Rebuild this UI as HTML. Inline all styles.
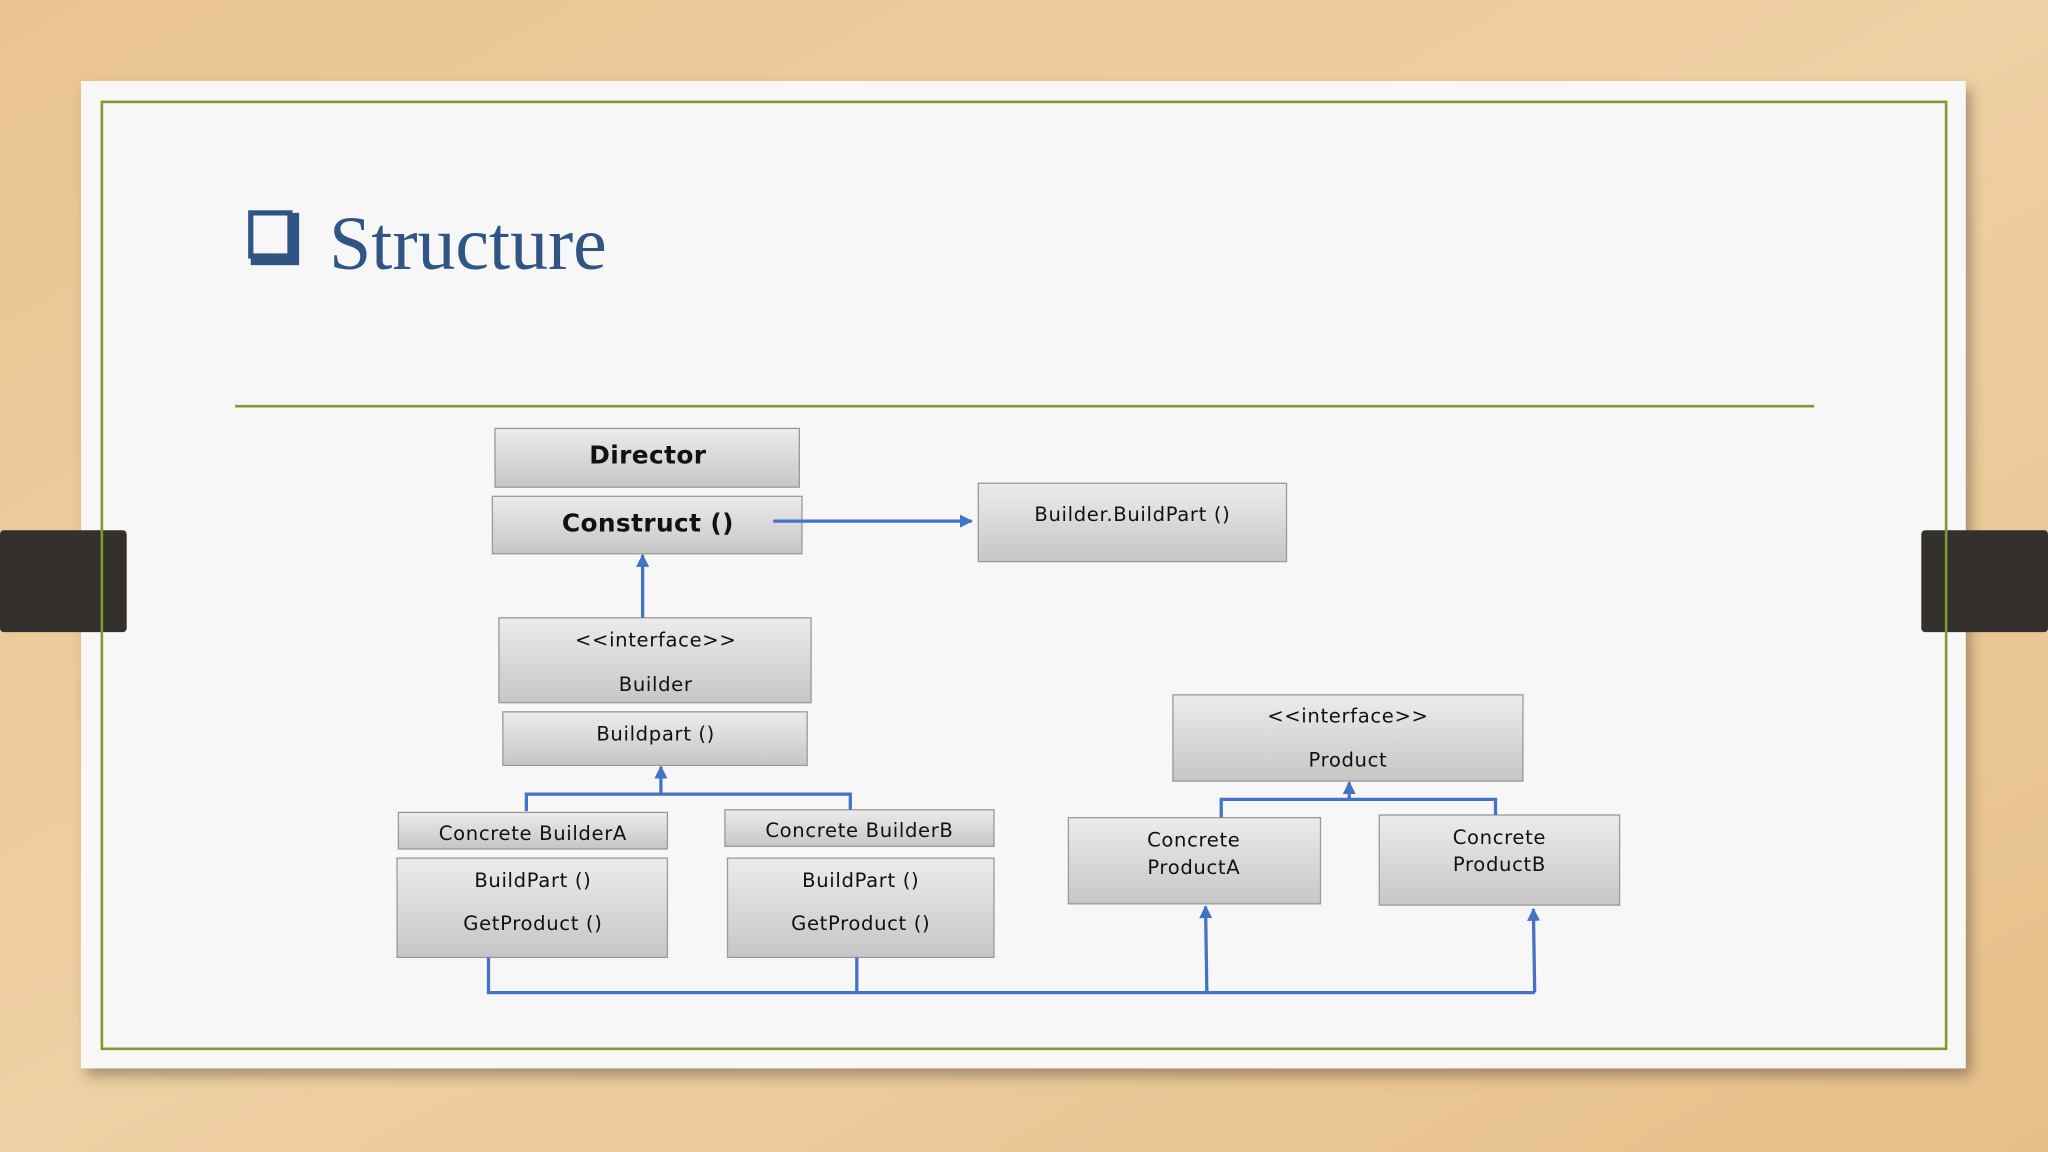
<!DOCTYPE html>
<html><head><meta charset="utf-8"><style>html,body{margin:0;padding:0;width:2048px;height:1152px;overflow:hidden}svg{display:block}</style></head>
<body>
<svg width="2048" height="1152" viewBox="0 0 1568 882" xmlns="http://www.w3.org/2000/svg">
<defs>
<linearGradient id="wood" x1="0" y1="0" x2="1" y2="1">
<stop offset="0" stop-color="#e9c490"/><stop offset="0.5" stop-color="#efd0a4"/><stop offset="1" stop-color="#e6bf88"/></linearGradient>
<linearGradient id="box" x1="0" y1="0" x2="0" y2="1">
<stop offset="0" stop-color="#ececec"/><stop offset="1" stop-color="#c6c6c6"/></linearGradient>
<marker id="ar" viewBox="0 0 10 10" refX="9" refY="5" markerWidth="4" markerHeight="4" orient="auto"><path d="M0,0L10,5L0,10z" fill="#4472c4"/></marker>
<filter id="sh"><feDropShadow dx="4" dy="6" stdDeviation="5" flood-color="#000" flood-opacity="0.3"/></filter>
</defs>
<rect width="1568" height="882" fill="url(#wood)"/>
<rect x="62" y="62" width="1443" height="756" fill="#f7f7f7" filter="url(#sh)"/>
<rect x="0" y="406" width="97" height="78" rx="3" fill="#33302d"/>
<rect x="1471" y="406" width="97" height="78" rx="3" fill="#33302d"/>
<rect x="78" y="78" width="1412" height="725" fill="none" stroke="#7f9a2e" stroke-width="2"/>
<line x1="180" y1="311" x2="1389" y2="311" stroke="#7f9a2e" stroke-width="2"/>
<rect x="192" y="163" width="37" height="40" fill="#2f5584"/>
<rect x="192" y="163" width="30" height="33" fill="#f7f7f7" stroke="#2f5584" stroke-width="4"/>
<text x="252" y="206" font-family="Liberation Serif, serif" font-size="58" fill="#2f5584">Structure</text>
<g stroke="#9a9a9a" stroke-width="1" fill="url(#box)">
<rect x="379" y="328" width="233" height="45"/>
<rect x="377" y="380" width="237" height="44"/>
<rect x="749" y="370" width="236" height="60"/>
<rect x="382" y="473" width="239" height="65"/>
<rect x="385" y="545" width="233" height="41"/>
<rect x="305" y="622" width="206" height="28"/>
<rect x="304" y="657" width="207" height="76"/>
<rect x="555" y="620" width="206" height="28"/>
<rect x="557" y="657" width="204" height="76"/>
<rect x="898" y="532" width="268" height="66"/>
<rect x="818" y="626" width="193" height="66"/>
<rect x="1056" y="624" width="184" height="69"/>
</g>
<g font-family="DejaVu Sans, Liberation Sans, sans-serif" font-size="15" fill="#111" text-anchor="middle" letter-spacing="0.5">
<text x="496" y="355" font-size="19" font-weight="bold" letter-spacing="0.3">Director</text>
<text x="496" y="407" font-size="19" font-weight="bold" letter-spacing="0.3">Construct ()</text>
<text x="867" y="399">Builder.BuildPart ()</text>
<text x="502" y="495">&lt;&lt;interface&gt;&gt;</text>
<text x="502" y="529">Builder</text>
<text x="502" y="567">Buildpart ()</text>
<text x="408" y="643">Concrete BuilderA</text>
<text x="408" y="679">BuildPart ()</text>
<text x="408" y="712">GetProduct ()</text>
<text x="658" y="641">Concrete BuilderB</text>
<text x="659" y="679">BuildPart ()</text>
<text x="659" y="712">GetProduct ()</text>
<text x="1032" y="553">&lt;&lt;interface&gt;&gt;</text>
<text x="1032" y="587">Product</text>
<text x="914" y="648">Concrete</text>
<text x="914" y="669">ProductA</text>
<text x="1148" y="646">Concrete</text>
<text x="1148" y="667">ProductB</text>
</g>
<g stroke="#4472c4" stroke-width="2.5" fill="none">
<line x1="592" y1="399" x2="744" y2="399" marker-end="url(#ar)"/>
<line x1="492" y1="473" x2="492" y2="425" marker-end="url(#ar)"/>
<path d="M403,621V608H651V620"/>
<line x1="506" y1="608" x2="506" y2="587" marker-end="url(#ar)"/>
<path d="M935,626V612H1145V624"/>
<line x1="1033" y1="612" x2="1033" y2="599" marker-end="url(#ar)"/>
<path d="M374,733V760H1175"/>
<line x1="656" y1="733" x2="656" y2="760"/>
<line x1="924" y1="760" x2="923" y2="694" marker-end="url(#ar)"/>
<line x1="1175" y1="760" x2="1174" y2="696" marker-end="url(#ar)"/>
</g>
</svg>
</body></html>
